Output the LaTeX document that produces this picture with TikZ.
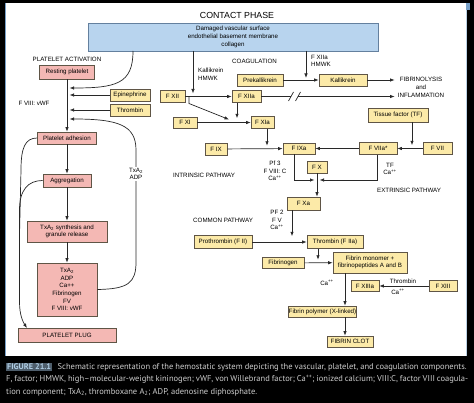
\documentclass[tikz,border=0pt]{standalone}
\usepackage{fontspec}
\setmainfont{Liberation Sans}
\newfontfamily\capfont{PT Sans}
\usetikzlibrary{arrows.meta}

\definecolor{pinkfill}{RGB}{244,184,180}
\definecolor{yelfill}{RGB}{252,234,168}
\definecolor{bluefill}{RGB}{184,212,238}
\definecolor{blueline}{RGB}{100,128,158}
\definecolor{boxline}{RGB}{95,85,70}
\definecolor{inkline}{RGB}{40,40,40}
\definecolor{capgray}{RGB}{205,205,205}
\definecolor{figtag}{RGB}{78,94,108}
\definecolor{figtext}{RGB}{175,205,228}
\definecolor{edgeblue}{RGB}{120,160,200}

\newcommand\diagfont{\fontsize{6.2}{7.7}\selectfont}
\newcommand\capsize{\fontsize{8.5}{10}\selectfont}

\tikzset{
  box/.style={draw=boxline, line width=0.6pt, inner sep=0pt, align=center, font=\diagfont},
  pbox/.style 2 args={box, fill=pinkfill, minimum width=#1, minimum height=#2},
  ybox/.style 2 args={box, fill=yelfill, minimum width=#1, minimum height=#2},
  lbl/.style={inner sep=0pt, font=\diagfont, align=center},
  wire/.style={draw=inkline, line width=0.7pt},
  arr/.style={-{Latex[length=4.5pt,width=3.4pt]}},
  captxt/.style={inner sep=0pt, anchor=west, text=capgray, font=\capfont\capsize}
}

\begin{document}
\begin{tikzpicture}[x=1pt,y=-1pt]
	%frame
	\fill[black] (0,0) rectangle (474,403);
	\fill[white] (5,3) rectangle (466,356);
	\draw[edgeblue, line width=0.8pt] (5,3) -- (5,356);
	\draw[edgeblue!50, line width=0.6pt] (466,3) -- (466,356);
	\fill[edgeblue] (466,3) rectangle (470,10);
	\useasboundingbox (0,0) rectangle (474,403);

	%contact phase
	\node[lbl, font=\fontsize{8.8}{10}\selectfont] (title) at (237,15) {CONTACT PHASE};
	\node[box, draw=blueline, fill=bluefill, minimum width=290pt, minimum height=28pt] (vasc) at (233,37)
		{Damaged vascular surface\\endothelial basement membrane\\collagen};

	%platelet column
	\node[lbl] (actlbl) at (67,59) {PLATELET ACTIVATION};
	\node[pbox={55pt}{14pt}] (rest) at (67,72) {Resting platelet};
	\node[ybox={40pt}{12pt}] (epi) at (130,95) {Epinephrine};
	\node[ybox={40pt}{12pt}] (thrb) at (130,110) {Thrombin};
	\node[lbl] (vwf) at (34,103) {F VIII: vWF};
	\node[pbox={59pt}{12pt}] (adh) at (67,138) {Platelet adhesion};
	\node[pbox={48pt}{13pt}] (aggr) at (67,180.5) {Aggregation};
	\node[pbox={80pt}{21pt}] (synth) at (67,231.5) {TxA\textsubscript{2} synthesis and\\granule release};
	\node[pbox={60pt}{53pt}] (pool) at (67,289.5) {TxA\textsubscript{2}\\ADP\\Ca++\\Fibrinogen\\FV\\F VIII: vWF};
	\node[pbox={98pt}{14pt}] (plug) at (67,335) {PLATELET PLUG};

	\coordinate (pl) at (69.5,0);
	\coordinate (vascL) at (133,51);
	\coordinate (plA) at (69.5,88);
	\coordinate (plT) at (69.5,119);
	\coordinate (merge) at (19.5,235);
	\coordinate (plugtip) at (27,328);

	\draw[wire,arr] (rest) -- (adh);
	\draw[wire,arr] (vascL) .. controls (133,84) and (116,88) .. (plA);
	\draw[wire,arr] (epi.west) -- (epi.west -| pl);
	\draw[wire,arr] (thrb.west) -- (thrb.west -| pl);
	\draw[wire,arr] (pool.east) .. controls (128,289) and (136,283) .. (136,262) -- (136,150)
		.. controls (136,125) and (118,119) .. (plT);
	\node[lbl, fill=white, inner sep=1.5pt] (txlbl) at (136,174) {TxA\textsubscript{2}\\ADP};
	\draw[wire,arr] (adh) -- (aggr);
	\draw[wire,arr] (aggr) -- (synth);
	\draw[wire,arr] (synth) -- (pool);
	\draw[wire] (adh.west) .. controls (25,138) and (21,148) .. (21,170) -- (merge);
	\draw[wire] (aggr.west) .. controls (28,180.5) and (19.5,190) .. (19.5,210) -- (merge);
	\draw[wire,arr] (merge) -- (19.5,302) .. controls (19.5,315) and (23,322) .. (plugtip);

	%coagulation cascade
	\node[lbl, anchor=west] (coag) at (232,61) {COAGULATION};
	\node[lbl, align=left, anchor=west] (kh) at (198,74) {Kallikrein\\HMWK};
	\node[lbl, align=left, anchor=west] (xh) at (311,61) {F XIIa\\HMWK};
	\node[ybox={25pt}{12pt}] (f12) at (172.5,96.5) {F XII};
	\node[ybox={29pt}{12pt}] (f12a) at (246.5,96.5) {F XIIa};
	\node[ybox={46pt}{12pt}] (prek) at (260,80) {Prekallikrein};
	\node[ybox={48pt}{12pt}] (kall) at (343,80) {Kallikrein};
	\node[lbl] (fib) at (421,87.5) {FIBRINOLYSIS\\and\\INFLAMMATION};
	\node[ybox={24pt}{11pt}] (f11) at (185,122.5) {F XI};
	\node[ybox={23pt}{12pt}] (f11a) at (262.5,122.5) {F XIa};
	\node[ybox={22pt}{12pt}] (f9) at (216,149) {F IX};
	\node[ybox={32pt}{11pt}] (f9a) at (299,148.5) {F IXa};
	\node[ybox={60pt}{14pt}] (tf) at (398,115) {Tissue factor (TF)};
	\node[ybox={38pt}{12pt}] (f7a) at (378,148.5) {F VIIa*};
	\node[ybox={29pt}{12pt}] (f7) at (437.5,148.5) {F VII};
	\node[ybox={20pt}{12pt}] (f10) at (317,167) {F X};
	\node[ybox={33pt}{13pt}] (f10a) at (303.5,203.5) {F Xa};
	\node[ybox={58pt}{13pt}] (proth) at (223,242) {Prothrombin (F II)};
	\node[ybox={56pt}{13pt}] (thrm) at (335,242) {Thrombin (F IIa)};
	\node[ybox={42pt}{11pt}] (fbg) at (283,263) {Fibrinogen};
	\node[ybox={74pt}{21pt}] (mono) at (370,262.5) {Fibrin monomer +\\fibrinopeptides A and B};
	\node[ybox={28pt}{11pt}] (f13a) at (365,286) {F XIIIa};
	\node[ybox={28pt}{11pt}] (f13) at (443,286) {F XIII};
	\node[ybox={65pt}{11pt}] (poly) at (322.5,311.5) {Fibrin polymer (X-linked)};
	\node[ybox={46pt}{11pt}] (clot) at (350,341.5) {FIBRIN CLOT};

	%pathway labels
	\node[lbl, anchor=west] (intr) at (173,175) {INTRINSIC PATHWAY};
	\node[lbl] (pf3) at (275,171) {Pf 3\\F VIII: C\\Ca\textsuperscript{++}};
	\node[lbl] (tfca) at (390,169) {TF\\Ca\textsuperscript{++}};
	\node[lbl, anchor=west] (extr) at (377,190) {EXTRINSIC PATHWAY};
	\node[lbl, anchor=west] (comm) at (193,220) {COMMON PATHWAY};
	\node[lbl] (pf2) at (277,220) {PF 2\\F V\\Ca\textsuperscript{++}};
	\node[lbl] (ca1) at (327,283) {Ca\textsuperscript{++}};
	\node[lbl] (thl) at (403,281.5) {Thrombin};
	\node[lbl] (ca2) at (398,292) {Ca\textsuperscript{++}};

	\coordinate (ktop) at (193,51);
	\coordinate (xtop) at (306,51);
	\coordinate (gapL) at (291,96.5);
	\coordinate (gapR) at (298,96.5);
	\coordinate (xj) at (317,180);

	\draw[wire,arr,shorten >=3pt] (ktop) -- (f12.east -| ktop);
	\draw[wire,arr] (f12) -- (f12a);
	\draw[wire,arr] (f12.east -| 189,0) -- ++(0,7) -- ++(40,16);
	\draw[wire,arr] ([xshift=-9.5pt]f12a.south) -- ++(0,15.5);
	\draw[wire,arr] (f11) -- (f11a);
	\draw[wire,arr] ([xshift=4.5pt]f11a.south) -- ++(0,17);
	\draw[wire,arr] (f9) -- (f9a);
	\draw[wire] (f12a.east) -- (gapL);
	\draw[wire,arr,shorten >=3pt] (gapR) -- (f12a -| fib.west);
	\draw[wire] (288.5,101) -- (293.5,92);
	\draw[wire] (295.5,101) -- (300.5,92);
	\draw[wire,arr,shorten >=2pt] (xtop) -- (prek.east -| xtop);
	\draw[wire,arr] (prek) -- (kall);
	\draw[wire,arr,shorten >=3pt] (kall) -- (kall -| fib.west);
	\draw[wire,arr] ([xshift=14pt]tf.south) -- ++(0,23);
	\draw[wire,arr] (f7) -- (f7a);
	\draw[wire,arr] (f7a) -- (f9a);
	\draw[wire,arr] ([xshift=-5pt]f9a.south) |- ([xshift=-2.5pt]xj);
	\draw[wire,arr] ([xshift=-1pt]f7a.south) |- ([xshift=2.5pt]xj);
	\draw[wire,arr] (f10) -- (f10.south |- f10a.north);
	\draw[wire,arr] ([xshift=-11.5pt]f10a.south) -- ++(0,26);
	\draw[wire,arr] (proth) -- (thrm);
	\draw[wire,arr] ([xshift=-17pt]thrm.south) -- ++(0,11);
	\draw[wire,arr] (fbg) -- (mono);
	\draw[wire,arr] ([xshift=-25pt]mono.south) -- ([xshift=-25pt]mono.south |- poly.north);
	\draw[wire,arr] (f13) -- (f13a);
	\draw[wire,arr] ([xshift=22.5pt]poly.south) -- ([xshift=-5pt]clot.north);

	%caption
	\node[fill=figtag, text=figtext, font=\capfont\bfseries\fontsize{8.2}{9}\selectfont, inner sep=1pt, anchor=west] (tag) at (6,367) {FIGURE 21.1};
	\node[captxt] (cap1) at (57.5,367) {\makebox[409pt][s]{Schematic representation of the hemostatic system depicting the vascular, platelet, and coagulation components.}};
	\node[captxt] (cap2) at (6,379.5) {\makebox[462pt][s]{F, factor; HMWK, high–molecular-weight kininogen; vWF, von Willebrand factor; Ca\textsuperscript{++}; ionized calcium; VIII:C, factor VIII coagula-}};
	\node[captxt] (cap3) at (6,392) {tion component; TxA\textsubscript{2}, thromboxane A\textsubscript{2}; ADP, adenosine diphosphate.};
\end{tikzpicture}
\end{document}
